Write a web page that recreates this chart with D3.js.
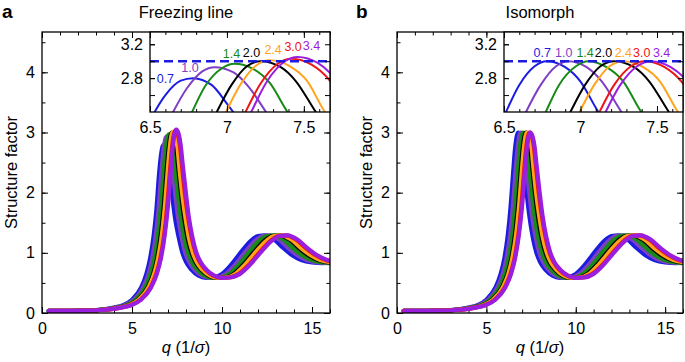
<!DOCTYPE html>
<html>
<head>
<meta charset="utf-8">
<script src="https://cdn.jsdelivr.net/npm/d3@7"></script>
<style>
  body { margin: 0; background: #fff; }
  svg { font-family: "Liberation Sans", Arial, sans-serif; }
</style>
</head>
<body>
<div id="chart"></div>
<script>
// series labels and colours (temperatures along the line)
var seriesNames = ["0.7", "1.0", "1.4", "2.0", "2.4", "3.0", "3.4"];
var colors = ["#1c1ce0", "#7f3fc4", "#178a17", "#000000", "#ffa41c", "#ee1515", "#9a1ee0"];

// q values per series
var q07 = [0.36, 1.0, 2.0, 3.0, 4.0, 4.5, 5.0, 5.5, 5.8, 6.0, 6.2, 6.35, 6.5, 6.6, 6.7, 6.78, 6.9, 7.0, 7.1, 7.25, 7.4, 7.6, 7.8, 8.0, 8.3, 8.7, 9.1, 9.5, 10.0, 10.5, 11.0, 11.6, 12.0, 12.4, 12.9, 13.4, 13.9, 14.4, 15.0, 15.6, 16.2];
var q10 = [0.37, 1.02, 2.04, 3.06, 4.08, 4.59, 5.10, 5.61, 5.92, 6.12, 6.33, 6.48, 6.63, 6.74, 6.84, 6.92, 7.04, 7.14, 7.25, 7.40, 7.55, 7.76, 7.96, 8.17, 8.47, 8.88, 9.29, 9.70, 10.21, 10.72, 11.23, 11.84, 12.25, 12.66, 13.17, 13.68, 14.19, 14.70, 15.31, 15.92, 16.53];
var q14 = [0.37, 1.04, 2.08, 3.12, 4.16, 4.68, 5.20, 5.72, 6.03, 6.24, 6.45, 6.60, 6.76, 6.86, 6.97, 7.05, 7.17, 7.28, 7.38, 7.54, 7.69, 7.90, 8.11, 8.32, 8.63, 9.05, 9.46, 9.88, 10.40, 10.92, 11.44, 12.06, 12.48, 12.89, 13.41, 13.93, 14.45, 14.97, 15.60, 16.22, 16.85];
var q20 = [0.38, 1.06, 2.13, 3.19, 4.26, 4.79, 5.32, 5.86, 6.18, 6.39, 6.60, 6.76, 6.92, 7.03, 7.13, 7.22, 7.35, 7.45, 7.56, 7.72, 7.88, 8.09, 8.31, 8.52, 8.84, 9.26, 9.69, 10.12, 10.65, 11.18, 11.71, 12.35, 12.78, 13.20, 13.74, 14.27, 14.80, 15.33, 15.97, 16.61, 17.25];
var q24 = [0.39, 1.07, 2.15, 3.22, 4.30, 4.83, 5.37, 5.91, 6.23, 6.44, 6.66, 6.82, 6.98, 7.09, 7.19, 7.28, 7.41, 7.52, 7.62, 7.78, 7.95, 8.16, 8.38, 8.59, 8.91, 9.34, 9.77, 10.20, 10.74, 11.27, 11.81, 12.46, 12.89, 13.31, 13.85, 14.39, 14.93, 15.46, 16.11, 16.75, 17.39];
var q30 = [0.39, 1.09, 2.19, 3.28, 4.38, 4.92, 5.47, 6.02, 6.35, 6.57, 6.79, 6.95, 7.11, 7.22, 7.33, 7.42, 7.55, 7.66, 7.77, 7.93, 8.10, 8.32, 8.54, 8.76, 9.08, 9.52, 9.96, 10.40, 10.94, 11.49, 12.04, 12.70, 13.13, 13.57, 14.12, 14.66, 15.21, 15.76, 16.42, 17.07, 17.73];
var q34 = [0.40, 1.10, 2.20, 3.30, 4.40, 4.95, 5.50, 6.05, 6.38, 6.60, 6.82, 6.99, 7.15, 7.26, 7.37, 7.46, 7.59, 7.70, 7.81, 7.98, 8.14, 8.36, 8.58, 8.80, 9.13, 9.57, 10.01, 10.45, 11.00, 11.55, 12.10, 12.76, 13.20, 13.64, 14.19, 14.74, 15.29, 15.84, 16.50, 17.16, 17.82];

// structure factor along the freezing line (panel a)
var sFreeze07 = [0.035, 0.035, 0.04, 0.05, 0.09, 0.13, 0.22, 0.42, 0.65, 0.9, 1.28, 1.7, 2.3, 2.6, 2.77, 2.8, 2.72, 2.5, 2.25, 1.9, 1.56, 1.25, 1.0, 0.85, 0.72, 0.62, 0.585, 0.59, 0.65, 0.8, 0.99, 1.2, 1.28, 1.29, 1.22, 1.08, 0.96, 0.88, 0.84, 0.83, 0.84];
var sFreeze10 = [0.035, 0.035, 0.04, 0.05, 0.09, 0.13, 0.22, 0.42, 0.65, 0.9, 1.3, 1.74, 2.33, 2.68, 2.88, 2.93, 2.87, 2.7, 2.41, 1.98, 1.61, 1.25, 1.0, 0.85, 0.72, 0.62, 0.585, 0.59, 0.65, 0.8, 0.99, 1.2, 1.28, 1.29, 1.22, 1.08, 0.96, 0.88, 0.84, 0.83, 0.84];
var sFreeze14 = [0.035, 0.035, 0.04, 0.05, 0.09, 0.13, 0.22, 0.42, 0.65, 0.9, 1.3, 1.75, 2.35, 2.71, 2.92, 2.97, 2.91, 2.74, 2.44, 2.0, 1.62, 1.25, 1.0, 0.85, 0.72, 0.62, 0.585, 0.59, 0.65, 0.8, 0.99, 1.2, 1.28, 1.29, 1.22, 1.08, 0.96, 0.88, 0.84, 0.83, 0.84];
var sFreeze20 = [0.035, 0.035, 0.04, 0.05, 0.09, 0.13, 0.22, 0.42, 0.65, 0.9, 1.3, 1.75, 2.35, 2.72, 2.94, 3.0, 2.93, 2.76, 2.45, 2.0, 1.62, 1.25, 1.0, 0.85, 0.72, 0.62, 0.585, 0.59, 0.65, 0.8, 0.99, 1.2, 1.28, 1.29, 1.22, 1.08, 0.96, 0.88, 0.84, 0.83, 0.84];
var sFreeze24 = [0.035, 0.035, 0.04, 0.05, 0.09, 0.13, 0.22, 0.42, 0.65, 0.9, 1.3, 1.75, 2.35, 2.73, 2.95, 3.01, 2.94, 2.77, 2.45, 2.0, 1.62, 1.25, 1.0, 0.85, 0.72, 0.62, 0.585, 0.59, 0.65, 0.8, 0.99, 1.2, 1.28, 1.29, 1.22, 1.08, 0.96, 0.88, 0.84, 0.83, 0.84];
var sFreeze30 = [0.035, 0.035, 0.04, 0.05, 0.09, 0.13, 0.22, 0.42, 0.65, 0.9, 1.3, 1.75, 2.36, 2.74, 2.97, 3.03, 2.96, 2.79, 2.47, 2.01, 1.62, 1.25, 1.0, 0.85, 0.72, 0.62, 0.585, 0.59, 0.65, 0.8, 0.99, 1.2, 1.28, 1.29, 1.22, 1.08, 0.96, 0.88, 0.84, 0.83, 0.84];
var sFreeze34 = [0.035, 0.035, 0.04, 0.05, 0.09, 0.13, 0.22, 0.42, 0.65, 0.9, 1.3, 1.76, 2.37, 2.76, 2.99, 3.05, 2.98, 2.8, 2.49, 2.03, 1.63, 1.25, 1.0, 0.85, 0.72, 0.62, 0.585, 0.59, 0.65, 0.8, 0.99, 1.2, 1.28, 1.29, 1.22, 1.08, 0.96, 0.88, 0.84, 0.83, 0.84];

// along the isomorph the curves have the same shape (panel b)
var sIsomorph = [0.035, 0.035, 0.04, 0.05, 0.09, 0.13, 0.22, 0.42, 0.65, 0.9, 1.3, 1.75, 2.35, 2.72, 2.94, 3.0, 2.93, 2.76, 2.45, 2.0, 1.62, 1.25, 1.0, 0.85, 0.72, 0.62, 0.585, 0.59, 0.65, 0.8, 0.99, 1.2, 1.28, 1.29, 1.22, 1.08, 0.96, 0.88, 0.84, 0.83, 0.84];

var qSeries = [q07, q10, q14, q20, q24, q30, q34];
var sFreeze = [sFreeze07, sFreeze10, sFreeze14, sFreeze20, sFreeze24, sFreeze30, sFreeze34];
var sIso = [sIsomorph, sIsomorph, sIsomorph, sIsomorph, sIsomorph, sIsomorph, sIsomorph];

// where the series names sit inside each inset (q, S)
var insetLabelsA = [[6.60, 2.80], [6.76, 2.93], [7.03, 3.09], [7.16, 3.10], [7.30, 3.14], [7.43, 3.17], [7.55, 3.18]];
var insetLabelsB = [[6.75, 3.10], [6.89, 3.10], [7.03, 3.10], [7.15, 3.10], [7.28, 3.10], [7.40, 3.10], [7.53, 3.10]];

var xTicks = [0, 5, 10, 15];
var yTicks = [0, 1, 2, 3, 4];
var insetXTicks = [6.5, 7, 7.5];
var insetYTicks = [2.8, 3.2];
var dashLevel = 3.0;

var W = 685, H = 362, plotTop = 32, plotBottom = 313, insetBottom = 112;

var svg = d3.select("#chart").append("svg").attr("width", W).attr("height", H);

var yMain = d3.scaleLinear().domain([0, 4.67]).range([plotBottom, plotTop]);
var yInset = d3.scaleLinear().domain([2.4, 3.345]).range([insetBottom, plotTop]);

function addAxis(g, axis, tr) {
    var a = g.append("g").attr("transform", tr).call(axis);
    a.attr("font-family", null).attr("font-size", 16);
    a.select(".domain").remove();
    a.selectAll("line").attr("stroke", "#000").attr("stroke-width", 1);
    a.selectAll("text").attr("fill", "#000");
    return a;
}

function drawPanel(p) {
    var g = svg.append("g");
    var x = d3.scaleLinear().domain([0, 16]).range([p.left, p.right]);
    var xi = d3.scaleLinear().domain([6.5, 7.67]).range([p.insetLeft, p.right]);

    // main frame ticks
    addAxis(g, d3.axisBottom(x).tickValues(d3.range(0, 17)).tickSize(-3.5).tickFormat(""), "translate(0," + plotBottom + ")");
    addAxis(g, d3.axisBottom(x).tickValues(xTicks).tickSize(-6).tickPadding(10).tickFormat(d3.format("d")), "translate(0," + plotBottom + ")");
    addAxis(g, d3.axisTop(x).tickValues(d3.range(0, 17)).tickSize(-3.5).tickFormat(""), "translate(0," + plotTop + ")");
    addAxis(g, d3.axisTop(x).tickValues(xTicks).tickSize(-6).tickFormat(""), "translate(0," + plotTop + ")");
    addAxis(g, d3.axisLeft(yMain).tickValues(d3.range(0, 4.6, 0.5)).tickSize(-3.5).tickFormat(""), "translate(" + p.left + ",0)");
    addAxis(g, d3.axisLeft(yMain).tickValues(yTicks).tickSize(-6).tickPadding(7).tickFormat(d3.format("d")), "translate(" + p.left + ",0)");
    addAxis(g, d3.axisRight(yMain).tickValues(d3.range(0, 4.6, 0.5)).tickSize(-3.5).tickFormat(""), "translate(" + p.right + ",0)");
    addAxis(g, d3.axisRight(yMain).tickValues(yTicks).tickSize(-6).tickFormat(""), "translate(" + p.right + ",0)");

    // curves
    g.append("clipPath").attr("id", "clip" + p.id).append("rect")
        .attr("x", p.left).attr("y", plotTop).attr("width", p.right - p.left).attr("height", plotBottom - plotTop);
    var line = d3.line().x(function(d) { return x(d[0]); }).y(function(d) { return yMain(d[1]); }).curve(d3.curveMonotoneX);
    var curves = g.append("g").attr("clip-path", "url(#clip" + p.id + ")");
    qSeries.forEach(function(qs, i) {
        var pts = qs.map(function(q, j) { return [q, p.sets[i][j]]; });
        curves.append("path").attr("d", line(pts)).attr("fill", "none")
            .attr("stroke", colors[i]).attr("stroke-width", 4.2).attr("stroke-linejoin", "round").attr("stroke-linecap", "round");
    });

    g.append("rect").attr("x", p.left).attr("y", plotTop).attr("width", p.right - p.left).attr("height", plotBottom - plotTop)
        .attr("fill", "none").attr("stroke", "#000").attr("stroke-width", 1.3);

    // inset
    var ins = g.append("g");
    ins.append("rect").attr("x", p.insetLeft).attr("y", plotTop).attr("width", p.right - p.insetLeft).attr("height", insetBottom - plotTop)
        .attr("fill", "#fff");
    ins.append("clipPath").attr("id", "iclip" + p.id).append("rect")
        .attr("x", p.insetLeft).attr("y", plotTop).attr("width", p.right - p.insetLeft).attr("height", insetBottom - plotTop);
    var iline = d3.line().x(function(d) { return xi(d[0]); }).y(function(d) { return yInset(d[1]); }).curve(d3.curveMonotoneX);
    var icurves = ins.append("g").attr("clip-path", "url(#iclip" + p.id + ")");
    qSeries.forEach(function(qs, i) {
        var pts = qs.map(function(q, j) { return [q, p.sets[i][j]]; });
        icurves.append("path").attr("d", iline(pts)).attr("fill", "none")
            .attr("stroke", colors[i]).attr("stroke-width", 2);
    });
    icurves.append("line").attr("x1", xi(6.5)).attr("x2", xi(7.67)).attr("y1", yInset(dashLevel)).attr("y2", yInset(dashLevel))
        .attr("stroke", "#1c1ce0").attr("stroke-width", 2.6).attr("stroke-dasharray", "9,5");

    addAxis(ins, d3.axisBottom(xi).tickValues(d3.range(6.5, 7.65, 0.1)).tickSize(-3).tickFormat(""), "translate(0," + insetBottom + ")");
    addAxis(ins, d3.axisBottom(xi).tickValues(insetXTicks).tickSize(-6).tickPadding(10).tickFormat(d3.format("")), "translate(0," + insetBottom + ")");
    addAxis(ins, d3.axisTop(xi).tickValues(d3.range(6.5, 7.65, 0.1)).tickSize(-3).tickFormat(""), "translate(0," + plotTop + ")");
    addAxis(ins, d3.axisTop(xi).tickValues(insetXTicks).tickSize(-6).tickFormat(""), "translate(0," + plotTop + ")");
    addAxis(ins, d3.axisLeft(yInset).tickValues([2.6, 2.8, 3.0, 3.2]).tickSize(-5).tickFormat(""), "translate(" + p.insetLeft + ",0)");
    addAxis(ins, d3.axisLeft(yInset).tickValues(insetYTicks).tickSize(-5).tickPadding(7).tickFormat(d3.format(".1f")), "translate(" + p.insetLeft + ",0)");
    addAxis(ins, d3.axisRight(yInset).tickValues([2.6, 2.8, 3.0, 3.2]).tickSize(-5).tickFormat(""), "translate(" + p.right + ",0)");

    ins.append("rect").attr("x", p.insetLeft).attr("y", plotTop).attr("width", p.right - p.insetLeft).attr("height", insetBottom - plotTop)
        .attr("fill", "none").attr("stroke", "#000").attr("stroke-width", 1.3);

    ins.selectAll(".slabel").data(p.labels).enter().append("text")
        .attr("x", function(d) { return xi(d[0]); })
        .attr("y", function(d) { return yInset(d[1]); })
        .attr("dy", "0.35em").attr("text-anchor", "middle").attr("font-size", 12.5)
        .attr("fill", function(d, i) { return colors[i]; })
        .text(function(d, i) { return seriesNames[i]; });

    // titles and axis labels
    var mid = (p.left + p.right) / 2;
    svg.append("text").attr("x", p.letterX).attr("y", 18).attr("font-size", 19).attr("font-weight", "bold").text(p.letter);
    svg.append("text").attr("x", mid).attr("y", 18).attr("font-size", 16.5).attr("text-anchor", "middle").text(p.title);
    svg.append("text").attr("transform", "translate(" + (p.left - 25) + "," + ((plotTop + plotBottom) / 2) + ") rotate(-90)")
        .attr("font-size", 16.5).attr("text-anchor", "middle").text("Structure factor");
    var xl = svg.append("text").attr("x", mid).attr("y", 353).attr("font-size", 16.5).attr("text-anchor", "middle");
    xl.append("tspan").attr("font-style", "italic").text("q");
    xl.append("tspan").text(" (1/");
    xl.append("tspan").attr("font-style", "italic").text("σ");
    xl.append("tspan").text(")");
}

drawPanel({ id: "a", left: 42, right: 330, insetLeft: 150, sets: sFreeze, labels: insetLabelsA,
    letter: "a", letterX: 2, title: "Freezing line" });
drawPanel({ id: "b", left: 397, right: 683, insetLeft: 504, sets: sIso, labels: insetLabelsB,
    letter: "b", letterX: 356, title: "Isomorph" });
</script>
</body>
</html>
